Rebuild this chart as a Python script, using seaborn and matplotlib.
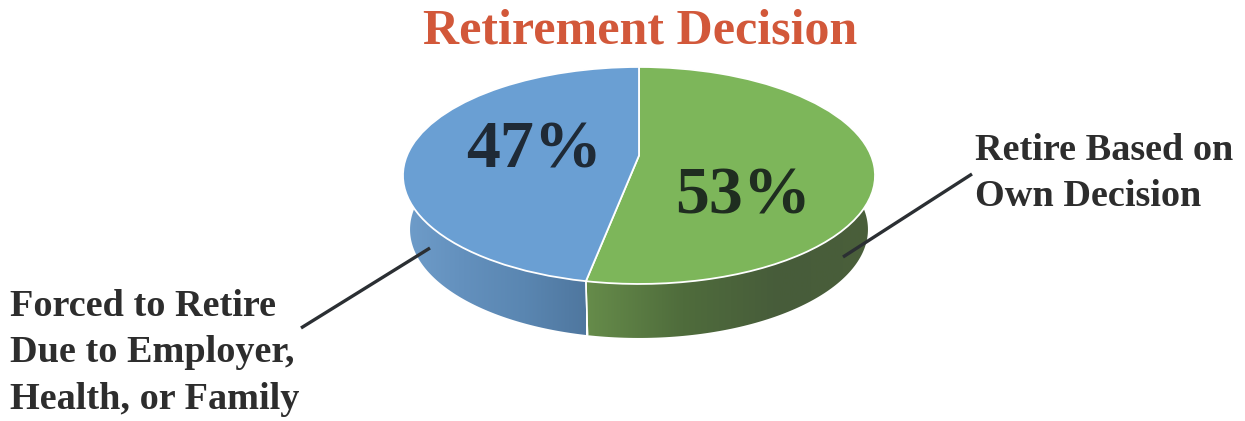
import numpy as np
import matplotlib
matplotlib.use('Agg')
import matplotlib.pyplot as plt
import matplotlib.transforms as mtransforms
from matplotlib.patches import Polygon
import seaborn as sns

decision_labels = ['Retire Based on\nOwn Decision', 'Forced to Retire\nDue to Employer,\nHealth, or Family']
decision_share = [53, 47]
top_colors = ['#7db65a', '#6a9fd3']
wall_colors = [['#668c4a', '#4f6c3c', '#475c3a', '#4a5f3a'], ['#6f9dca', '#6390bd', '#5a86b1', '#4f779f']]

CENTER_X, CENTER_Y = 639, 175.5
TILT = 0.184
DEPTH = 54


class TiltedDisc(mtransforms.Transform):
    # flat pie -> picture pixels, far side squeezed like the 3d view
    input_dims = 2
    output_dims = 2

    def transform_non_affine(self, values):
        u, v = values[:, 0], values[:, 1]
        w = 1 + TILT * v
        return np.column_stack([CENTER_X + 232 * u / w, CENTER_Y - (108.5 * v + 20) / w])


sns.set_theme(style='white')
plt.rcParams['font.family'] = ['Liberation Serif', 'DejaVu Serif']

fig = plt.figure(figsize=(12.45, 4.21), dpi=100)
ax = fig.add_axes([0, 0, 1, 1])

wedges, _ = ax.pie(decision_share, colors=top_colors, startangle=90, counterclock=False,
                   wedgeprops=dict(edgecolor='white', linewidth=1.3, zorder=5))
ax.set_aspect('auto')

tilt = TiltedDisc()
for wedge, blend in zip(wedges, wall_colors):
    wedge.set_transform(tilt + ax.transData)

    # side wall of the slice, lower rim a bit narrower than the top one
    angles = np.radians(np.linspace(wedge.theta1, wedge.theta2, 200))
    rim = tilt.transform(np.column_stack([np.cos(angles), np.sin(angles)]))
    low = rim + [0, DEPTH]
    low[:, 0] = CENTER_X + 0.97 * (low[:, 0] - CENTER_X)
    outline = np.vstack([rim, low[::-1]])

    front = rim[rim[:, 1] > CENTER_Y - 10]
    strip = np.array(sns.blend_palette(blend, n_colors=256))[None, :, :]
    img = ax.imshow(strip, extent=(front[:, 0].min(), front[:, 0].max(), 400, 0), aspect='auto', zorder=2)
    img.set_clip_path(Polygon(outline, transform=ax.transData))

    # white seam where the slices meet at the front
    for angle in [wedge.theta1, wedge.theta2]:
        edge = tilt.transform(np.array([[np.cos(np.radians(angle)), np.sin(np.radians(angle))]]))[0]
        ax.plot([edge[0], CENTER_X + 0.97 * (edge[0] - CENTER_X)], [edge[1], edge[1] + DEPTH], color='white', lw=1.1, zorder=3)

ax.set_xlim(0, 1245)
ax.set_ylim(421, 0)
ax.axis('off')

ax.text(640, 43, 'Retirement Decision', color='#d2583a', fontsize=36, fontweight='bold', ha='center', va='baseline')

ax.text(534, 168, f'{decision_share[1]}%', color='#1f2a36', fontsize=49, fontweight='bold', ha='center', va='baseline', zorder=7)
ax.text(743, 213, f'{decision_share[0]}%', color='#1f2d20', fontsize=49, fontweight='bold', ha='center', va='baseline', zorder=7)

ax.text(975, 206, decision_labels[0], color='#2d2d2d', fontsize=27.5, fontweight='bold', ha='left', va='baseline', linespacing=1.41)
ax.text(10, 409, decision_labels[1], color='#2d2d2d', fontsize=27.5, fontweight='bold', ha='left', va='baseline', linespacing=1.43)

ax.plot([843, 972], [257, 174], color='#2b2f33', lw=2.4, zorder=6, solid_capstyle='butt')
ax.plot([301, 430], [328, 248], color='#2b2f33', lw=2.4, zorder=6, solid_capstyle='butt')

fig.savefig('out.png', dpi=100)
